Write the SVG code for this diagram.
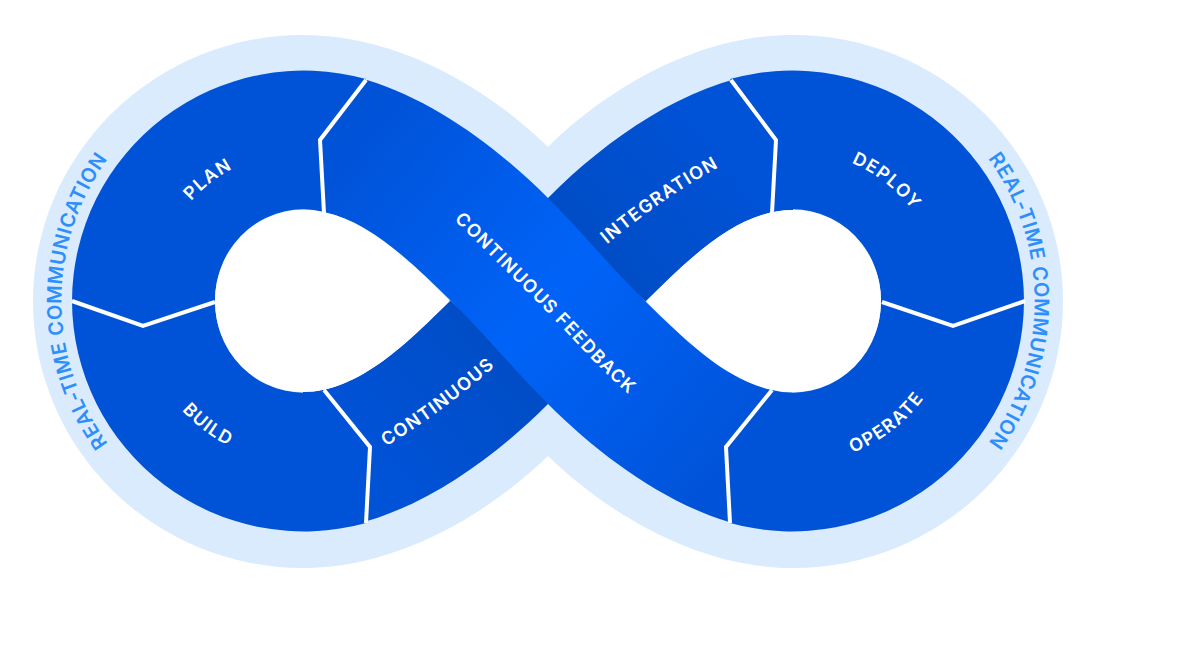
<svg xmlns="http://www.w3.org/2000/svg" width="1180" height="652" viewBox="0 0 1180 652">
<style>
.seg{fill:#0052d6}
.lbl{font-family:"Inter","Liberation Sans",sans-serif;font-size:18px;font-weight:600;fill:#fff;text-anchor:middle;letter-spacing:1.3px}
.rt{font-family:"Inter","Liberation Sans",sans-serif;font-size:20px;font-weight:600;fill:#2e8ffa;text-anchor:middle;letter-spacing:.6px}
.div{fill:none;stroke:#fff;stroke-width:4;stroke-linejoin:miter}
</style>
<defs>
<linearGradient id="gf" gradientUnits="userSpaceOnUse" x1="345" y1="130" x2="750" y2="470"><stop offset="0" stop-color="#0052d6"/><stop offset=".5" stop-color="#0063f8"/><stop offset="1" stop-color="#0052d6"/></linearGradient>
<linearGradient id="gb" gradientUnits="userSpaceOnUse" x1="370" y1="447" x2="726" y2="155"><stop offset="0" stop-color="#0052d6"/><stop offset=".4" stop-color="#004cc4"/><stop offset=".6" stop-color="#004cc4"/><stop offset="1" stop-color="#0052d6"/></linearGradient>
<path id="pPlan" d="M154.1,282.7A150,150 0 0 1 321.3,152.1"/>
<path id="pDeploy" d="M774.7,152.1A150,150 0 0 1 941.9,282.7"/>
<path id="pBuild" d="M141.4,322.3A163,163 0 0 0 324.3,462.6"/>
<path id="pOperate" d="M771.7,462.6A163,163 0 0 0 954.6,322.3"/>
<path id="pCont" d="M375,453Q445,412 505,357"/>
<path id="pInt" d="M598,252Q660,198 730,161"/>
<path id="pFeed" d="M446,212C490,255 520,285 548,313C575,340 605,376 638,402"/>
<path id="pRtL" d="M303,542.5A241.5,241.5 0 0 1 303,59.5"/>
<path id="pRtR" d="M793,59.5A241.5,241.5 0 0 1 793,542.5"/>
</defs>
<rect width="1180" height="652" fill="#fff"/>
<g id="halo">
<path fill="#d9ebfd" d="M548,147C490,90 400,35 303,35A270,266.5 0 0 0 303,568C400,568 490,512 548,456C606,512 696,568 793,568A270,266.5 0 0 0 793,35C696,35 606,90 548,147Z"/>
<text class="rt"><textPath href="#pRtL" startOffset="50%">REAL-TIME COMMUNICATION</textPath></text>
<text class="rt"><textPath href="#pRtR" startOffset="50%">REAL-TIME COMMUNICATION</textPath></text>
</g>
<g id="continuous">
<path fill="url(#gb)" d="M303,392C360,392 410,340 450,300L560,400L548,404C480,472 390,531 303,531Z"/>
</g>
<g id="integration">
<path fill="url(#gb)" d="M793,210C736,210 686,262 646,302L536,202L548,198C616,130 706,71 793,71Z"/>
</g>
<g id="plan">
<path class="seg" d="M72,301A232,231 0 0 1 366,79L320,140L324,212A88,91 0 0 0 215,302L143,326Z"/>
<text class="lbl"><textPath href="#pPlan" startOffset="50%">PLAN</textPath></text>
</g>
<g id="build">
<path class="seg" d="M72,301L143,326L215,302A88,91 0 0 0 324,390L370,447L366,523A232,231 0 0 1 72,301Z"/>
<text class="lbl"><textPath href="#pBuild" startOffset="50%">BUILD</textPath></text>
</g>
<g id="deploy">
<path class="seg" d="M1024,301A232,231 0 0 0 730,79L776,140L772,212A88,91 0 0 1 881,302L953,326Z"/>
<text class="lbl"><textPath href="#pDeploy" startOffset="50%">DEPLOY</textPath></text>
</g>
<g id="operate">
<path class="seg" d="M1024,301L953,326L881,302A88,91 0 0 1 772,390L726,447L730,523A232,231 0 0 0 1024,301Z"/>
<text class="lbl"><textPath href="#pOperate" startOffset="50%">OPERATE</textPath></text>
</g>
<g id="feedback">
<path fill="url(#gf)" d="M367,80C433,100 497,147 548,198C583,233 611,268 646,302C684,339 725,380 772,390L726,447L729,522C663,502 599,455 548,404C513,369 485,334 450,300C412,263 371,222 324,212L320,140Z"/>
<text class="lbl"><textPath href="#pFeed" startOffset="50%">CONTINUOUS FEEDBACK</textPath></text>
</g>
<g id="holes">
<path fill="#fff" d="M303,210C360,210 410,262 450,301C410,340 360,392 303,392A88,91 0 0 1 303,210Z"/>
<path fill="#fff" d="M793,210C736,210 686,262 646,301C686,340 736,392 793,392A88,91 0 0 0 793,210Z"/>
</g>
<g id="continuous-label"><text class="lbl"><textPath href="#pCont" startOffset="50%">CONTINUOUS</textPath></text></g>
<g id="integration-label"><text class="lbl"><textPath href="#pInt" startOffset="50%">INTEGRATION</textPath></text></g>
<g id="connectors">
<path class="div" d="M366,80L320,140L324,213"/>
<path class="div" d="M731,80L776,140L772,213"/>
<path class="div" d="M72,301L143,326L215,302"/>
<path class="div" d="M1025,301L953,326L882,302"/>
<path class="div" d="M324,390L370,447L366,523"/>
<path class="div" d="M772,390L726,447L730,523"/>
</g>
</svg>
